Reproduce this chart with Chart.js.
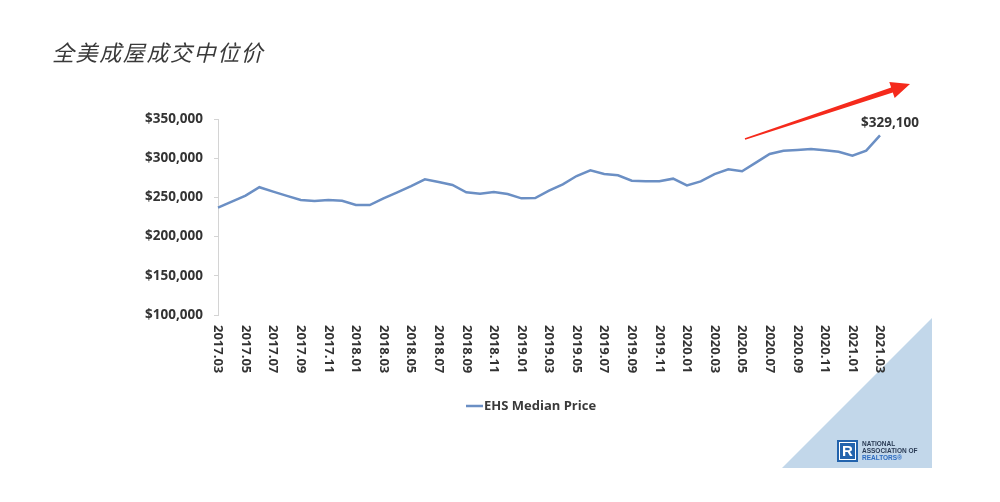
<!DOCTYPE html>
<html>
<head>
<meta charset="utf-8">
<script src="https://cdn.jsdelivr.net/npm/chart.js@4.4.1/dist/chart.umd.min.js"></script>
<style>
  html, body { margin: 0; padding: 0; background: #ffffff; }
  #wrap { position: relative; width: 1000px; height: 502px; overflow: hidden; }
  #title { position: absolute; left: 52px; top: 38px; font-family: "Noto Sans CJK SC", sans-serif; font-style: italic; font-weight: 400;
           font-size: 22px; line-height: 26px; letter-spacing: 1.6px; color: #3a3a3a; white-space: nowrap; }
  canvas { position: absolute; left: 0; top: 0; }
</style>
</head>
<body>
<div id="wrap">
  <canvas id="c" width="1000" height="502"></canvas>
  <div id="title">全美成屋成交中位价</div>
</div>
<script>
// ---- data ----
const months = [
  "2017.03","2017.04","2017.05","2017.06","2017.07","2017.08","2017.09","2017.10","2017.11","2017.12",
  "2018.01","2018.02","2018.03","2018.04","2018.05","2018.06","2018.07","2018.08","2018.09","2018.10",
  "2018.11","2018.12","2019.01","2019.02","2019.03","2019.04","2019.05","2019.06","2019.07","2019.08",
  "2019.09","2019.10","2019.11","2019.12","2020.01","2020.02","2020.03","2020.04","2020.05","2020.06",
  "2020.07","2020.08","2020.09","2020.10","2020.11","2020.12","2021.01","2021.02","2021.03"
];
const medianPrice = [
  237000, 244500, 252200, 263000, 257300, 252000, 246700, 245400, 246700, 245800,
  240300, 240300, 248800, 256500, 264500, 273100, 269600, 265800, 256500, 254700,
  256900, 254300, 248800, 249200, 258500, 266700, 277300, 284500, 279800, 278200,
  271300, 270500, 270700, 273900, 265400, 270500, 279800, 285800, 283300, 294300,
  305400, 309600, 310500, 311700, 310100, 308300, 303200, 309600, 329100
];
const seriesName = "EHS Median Price";
const yTicks = [100000, 150000, 200000, 250000, 300000, 350000];
const labelEvery = 2;

const LINE_COLOR = '#6b8fc4';
const TEXT_COLOR = '#333333';
const fmt = v => '$' + v.toLocaleString('en-US');

// ---- plugins ----
const decor = {
  id: 'decor',
  beforeDraw(chart) {
    const ctx = chart.ctx;
    ctx.save();
    // light blue triangle bottom-right
    ctx.fillStyle = '#c2d7ea';
    ctx.beginPath();
    ctx.moveTo(932, 318);
    ctx.lineTo(932, 468);
    ctx.lineTo(782, 468);
    ctx.closePath();
    ctx.fill();
    // NAR logo
    ctx.fillStyle = '#2263ad';
    ctx.fillRect(837, 440, 21, 22);
    ctx.strokeStyle = '#ffffff';
    ctx.lineWidth = 1;
    ctx.strokeRect(839.5, 442.5, 16, 17);
    ctx.fillStyle = '#ffffff';
    ctx.font = 'bold 15px "Liberation Sans", sans-serif';
    ctx.textAlign = 'center';
    ctx.textBaseline = 'middle';
    ctx.fillText('R', 847.5, 451.5);
    ctx.textAlign = 'left';
    ctx.font = 'bold 6.5px "Liberation Sans", sans-serif';
    ctx.fillStyle = '#2a3b55';
    ctx.fillText('NATIONAL', 862, 444);
    ctx.fillText('ASSOCIATION OF', 862, 451);
    ctx.fillStyle = '#2c6bc0';
    ctx.fillText('REALTORS\u00ae', 862, 458);
    ctx.restore();
  },
  afterDraw(chart) {
    const ctx = chart.ctx;
    const xs = chart.scales.x;
    const ds = chart.data.datasets[0];
    ctx.save();
    // rotated x labels
    ctx.fillStyle = TEXT_COLOR;
    ctx.font = 'bold 13px "Open Sans", sans-serif';
    ctx.textAlign = 'left';
    ctx.textBaseline = 'middle';
    chart.data.labels.forEach((lab, i) => {
      if (i % labelEvery !== 0) return;
      const x = xs.getPixelForValue(i);
      ctx.save();
      ctx.translate(x, 325);
      ctx.rotate(Math.PI / 2);
      ctx.fillText(lab, 0, 0);
      ctx.restore();
    });
    // last point data label
    const meta = chart.getDatasetMeta(0);
    const lastIdx = ds.data.length - 1;
    const pt = meta.data[lastIdx];
    ctx.font = 'bold 13.5px "Open Sans", sans-serif';
    ctx.textAlign = 'center';
    ctx.fillText(fmt(ds.data[lastIdx]), pt.x + 10, pt.y - 12);
    // legend
    ctx.strokeStyle = ds.borderColor;
    ctx.lineWidth = 2.5;
    ctx.beginPath();
    ctx.moveTo(466, 406);
    ctx.lineTo(483, 406);
    ctx.stroke();
    ctx.font = 'bold 13px "Open Sans", sans-serif';
    ctx.textAlign = 'left';
    ctx.fillStyle = '#3a3a3a';
    ctx.fillText(ds.label, 484, 406);
    // red arrow
    const tail = {x: 745, y: 139}, tip = {x: 910, y: 84};
    const L = Math.hypot(tip.x - tail.x, tip.y - tail.y);
    const d = {x: (tip.x - tail.x) / L, y: (tip.y - tail.y) / L};
    const n = {x: -d.y, y: d.x};
    const headLen = 19, headW = 8.5, tw = 0.8, sw = 2.6;
    const b = {x: tip.x - d.x * headLen, y: tip.y - d.y * headLen};
    ctx.fillStyle = '#f52a1c';
    ctx.beginPath();
    ctx.moveTo(tail.x + n.x * tw, tail.y + n.y * tw);
    ctx.lineTo(b.x + n.x * sw, b.y + n.y * sw);
    ctx.lineTo(b.x + n.x * headW, b.y + n.y * headW);
    ctx.lineTo(tip.x, tip.y);
    ctx.lineTo(b.x - n.x * headW, b.y - n.y * headW);
    ctx.lineTo(b.x - n.x * sw, b.y - n.y * sw);
    ctx.lineTo(tail.x - n.x * tw, tail.y - n.y * tw);
    ctx.closePath();
    ctx.fill();
    ctx.restore();
  }
};

new Chart(document.getElementById('c'), {
  type: 'line',
  data: {
    labels: months,
    datasets: [{
      label: seriesName,
      data: medianPrice,
      borderColor: LINE_COLOR,
      borderWidth: 2.5,
      pointRadius: 0,
      tension: 0,
      fill: false
    }]
  },
  options: {
    responsive: false,
    animation: false,
    devicePixelRatio: 1,
    layout: { padding: { left: 0, right: 120, top: 119, bottom: 187 } },
    plugins: { legend: { display: false }, tooltip: { enabled: false }, title: { display: false } },
    scales: {
      x: {
        type: 'category',
        offset: false,
        ticks: { display: false },
        grid: { display: false },
        border: { display: false },
        afterFit: s => { s.height = 0; }
      },
      y: {
        min: 100000,
        max: 350000,
        afterBuildTicks: s => { s.ticks = yTicks.map(v => ({ value: v })); },
        ticks: {
          color: TEXT_COLOR,
          font: { family: '"Open Sans", sans-serif', size: 13.5, weight: 'bold' },
          padding: 11,
          callback: v => fmt(v)
        },
        grid: { drawOnChartArea: false, drawTicks: true, tickLength: 4, color: '#d4d4d4' },
        border: { display: true, color: '#d4d4d4', width: 1 },
        afterFit: s => { s.width = 218; }
      }
    }
  },
  plugins: [decor]
});
</script>
</body>
</html>
